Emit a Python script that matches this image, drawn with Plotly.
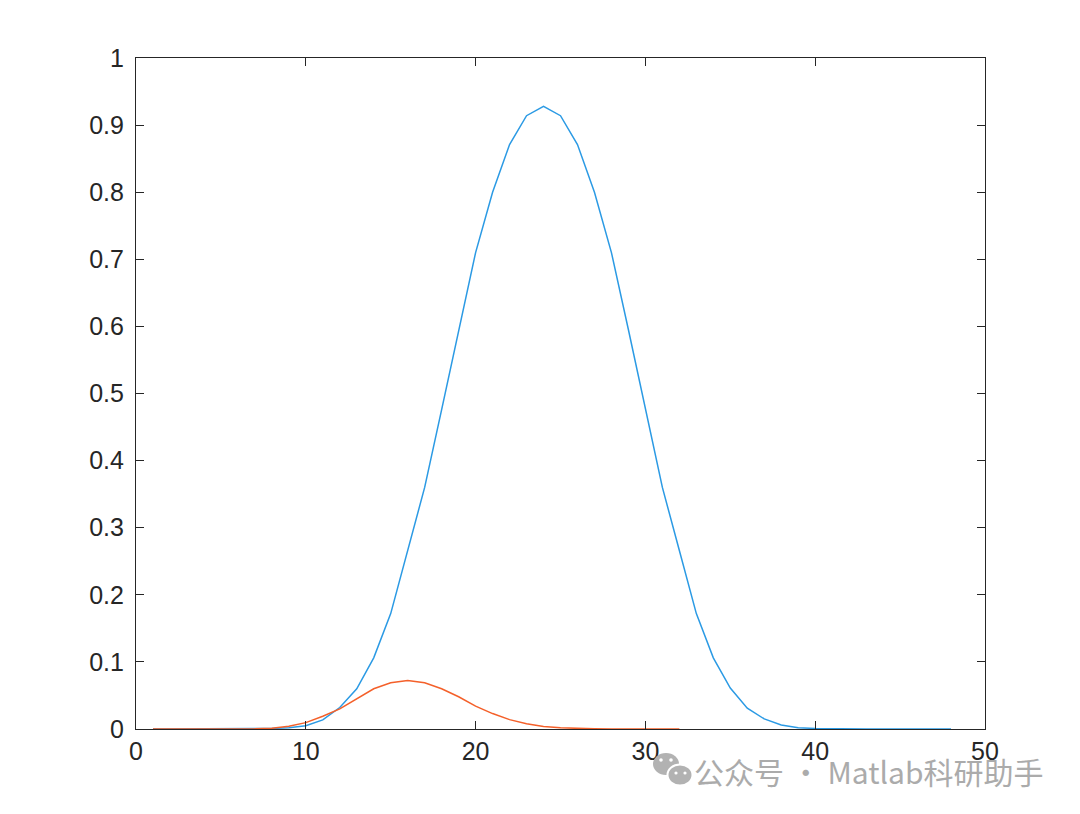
import plotly.graph_objects as go

# Series
x_blue = list(range(1, 49))
y_blue = [0, 0, 0, 0, 0, 0, 0.0002, 0.0007, 0.002, 0.005,
          0.0136, 0.032, 0.060, 0.106, 0.172, 0.266, 0.360, 0.476, 0.595, 0.710,
          0.800, 0.871, 0.914, 0.928, 0.914, 0.871, 0.800, 0.710, 0.595, 0.476,
          0.360, 0.266, 0.172, 0.106, 0.061, 0.031, 0.015, 0.006, 0.002, 0.0007,
          0.0002, 0, 0, 0, 0, 0, 0, 0]

x_red = list(range(1, 33))
y_red = [0, 0, 0, 0, 0, 0.0001, 0.0004, 0.0012, 0.004, 0.0095,
         0.019, 0.030, 0.045, 0.060, 0.069, 0.0724, 0.069, 0.060, 0.048, 0.034,
         0.023, 0.014, 0.0077, 0.0038, 0.0017, 0.0007, 0.0003, 0.0001, 0, 0,
         0, 0]

x_ticks = [0, 10, 20, 30, 40, 50]
y_ticks = [0, 0.1, 0.2, 0.3, 0.4, 0.5, 0.6, 0.7, 0.8, 0.9, 1]
y_ticktext = ['0', '0.1', '0.2', '0.3', '0.4', '0.5', '0.6', '0.7', '0.8', '0.9', '1']

# plot area in page pixels (page body adds an 8px offset)
L, R, T, B = 136, 985, 58, 729
OFF = 8


def px(x):
    return (x - L) / (R - L)


def py(y):
    return (B - y) / (B - T)


fig = go.Figure()

fig.add_trace(go.Scatter(
    x=x_blue, y=y_blue, mode='lines',
    line=dict(color='#2B9AE4', width=1.5),
    showlegend=False
))
fig.add_trace(go.Scatter(
    x=x_red, y=y_red, mode='lines',
    line=dict(color='#F4602A', width=1.5),
    showlegend=False
))

axis_style = dict(
    showline=True, linecolor='#262626', linewidth=1.2,
    mirror='ticks', ticks='inside', ticklen=8, tickcolor='#262626',
    showgrid=False, zeroline=False,
    tickfont=dict(family='Liberation Sans, Arial', size=25, color='#262626'),
)

fig.update_xaxes(range=[0, 50], tickvals=x_ticks, ticklabelstandoff=0, **axis_style)
fig.update_yaxes(range=[0, 1], tickvals=y_ticks, ticktext=y_ticktext,
                 ticklabelstandoff=6, **axis_style)

# watermark: wechat-like icon + text
def ellipse(cx, cy, rx, ry, color, line_color=None):
    fig.add_shape(type='circle', xref='paper', yref='paper',
                  x0=px(cx - rx), x1=px(cx + rx), y0=py(cy + ry), y1=py(cy - ry),
                  fillcolor=color,
                  line=dict(color=line_color or color, width=2 if line_color else 0),
                  layer='above')

ellipse(666, 764, 13, 11, '#B2B2B2')
ellipse(661, 760, 1.8, 1.8, 'white')
ellipse(671, 760, 1.8, 1.8, 'white')
ellipse(680, 775, 12.5, 10.5, '#B2B2B2', 'white')
ellipse(676, 773, 1.6, 1.6, 'white')
ellipse(685, 773, 1.6, 1.6, 'white')

fig.add_annotation(
    text='公众号 · Matlab科研助手',
    xref='paper', yref='paper', x=px(1046), y=py(771),
    xanchor='right', yanchor='middle', showarrow=False,
    font=dict(family='Noto Sans CJK SC', size=30, color='#ABABAB')
)

fig.update_layout(
    width=1080, height=814,
    margin=dict(l=L - OFF, r=1080 - R + OFF, t=T - OFF, b=814 - B + OFF),
    paper_bgcolor='white',
    plot_bgcolor='white',
)

fig.write_html("out.html")
